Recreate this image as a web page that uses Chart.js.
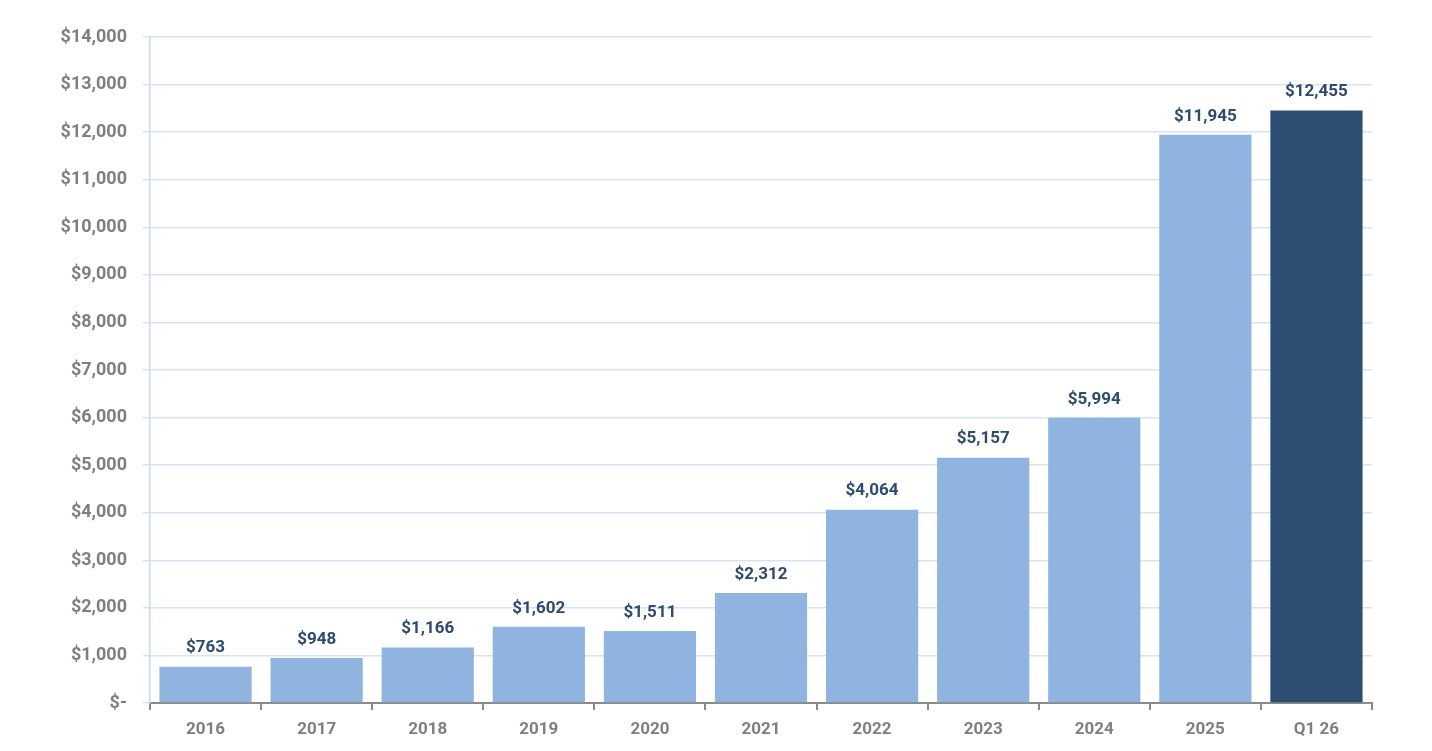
<!DOCTYPE html>
<html>
<head>
<meta charset="utf-8">
<script src="https://cdn.jsdelivr.net/npm/chart.js@4/dist/chart.umd.min.js"></script>
<style>
  html, body { margin: 0; padding: 0; background: #fff; }
  #wrap { width: 1432px; height: 751px; position: relative; }
</style>
</head>
<body>
<div id="wrap"><canvas id="chart"></canvas></div>
<script>
const categories = ['2016', '2017', '2018', '2019', '2020', '2021', '2022', '2023', '2024', '2025', 'Q1 26'];
const values = [763, 948, 1166, 1602, 1511, 2312, 4064, 5157, 5994, 11945, 12455];
const barColors = ['#8fb4e0', '#8fb4e0', '#8fb4e0', '#8fb4e0', '#8fb4e0', '#8fb4e0', '#8fb4e0', '#8fb4e0', '#8fb4e0', '#8fb4e0', '#2e4d73'];

const fmt = v => v === 0 ? '$-' : '$' + v.toLocaleString('en-US');

// draws the value above each bar
const valueLabels = {
    id: 'valueLabels',
    afterDatasetsDraw(chart) {
        const ctx = chart.ctx;
        const meta = chart.getDatasetMeta(0);
        ctx.save();
        ctx.font = 'bold 17px Roboto';
        ctx.fillStyle = '#2e4a6e';
        ctx.textAlign = 'center';
        ctx.textBaseline = 'bottom';
        meta.data.forEach((bar, i) => {
            ctx.fillText(fmt(values[i]), bar.x, bar.y - 10);
        });
        ctx.restore();
    }
};

new Chart(document.getElementById('chart'), {
    type: 'bar',
    data: {
        labels: categories,
        datasets: [{
            data: values,
            backgroundColor: barColors,
            barPercentage: 0.83,
            categoryPercentage: 1.0
        }]
    },
    options: {
        responsive: true,
        maintainAspectRatio: false,
        animation: false,
        layout: { padding: { top: 37, right: 60, left: 0, bottom: 0 } },
        plugins: {
            legend: { display: false },
            tooltip: { enabled: false }
        },
        scales: {
            x: {
                offset: true,
                grid: {
                    offset: true,
                    drawOnChartArea: false,
                    drawTicks: true,
                    tickLength: 7,
                    color: '#8a8a8a',
                    lineWidth: 2
                },
                border: { color: '#8a8a8a', width: 2 },
                ticks: {
                    color: '#7f7f7f',
                    font: { family: 'Roboto', weight: 'bold', size: 17 },
                    padding: 10
                },
                afterFit: s => { s.height = 48; }
            },
            y: {
                min: 0,
                max: 14000,
                ticks: {
                    stepSize: 1000,
                    color: '#7f7f7f',
                    font: { family: 'Roboto', weight: 'bold', size: 18 },
                    padding: 16,
                    callback: v => fmt(v)
                },
                grid: {
                    color: '#d5e3f5',
                    lineWidth: 1.5,
                    tickLength: 7
                },
                border: { color: '#c9daf0', width: 1.5 },
                afterFit: s => { s.width = 150; }
            }
        }
    },
    plugins: [valueLabels]
});
</script>
</body>
</html>
